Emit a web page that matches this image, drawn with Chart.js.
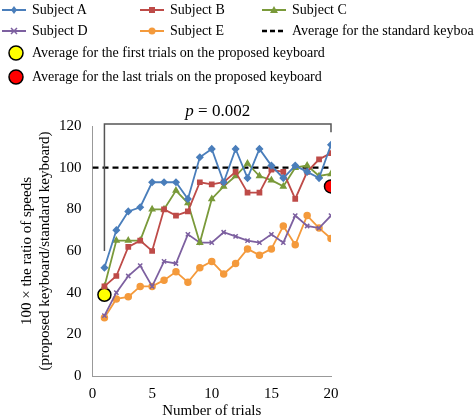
<!DOCTYPE html>
<html><head><meta charset="utf-8">
<script src="https://cdn.jsdelivr.net/npm/chart.js@4/dist/chart.umd.min.js"></script>
<style>
body{margin:0;background:#fff;font-family:"Liberation Serif","DejaVu Serif",serif;}
#wrap{position:relative;width:474px;height:417px;}
#legend{position:absolute;left:0;top:0;width:474px;font-size:14px;color:#000;}
.it{position:absolute;display:flex;align-items:center;white-space:nowrap;}
.it svg{margin-right:4px;}
</style></head><body>
<div id="wrap"><canvas id="c" width="474" height="417"></canvas><div id="legend"></div></div>
<script>
const trials=[1,2,3,4,5,6,7,8,9,10,11,12,13,14,15,16,17,18,19,20];
const subjectA=[52,70,79,81,93,93,93,85,105,109,93,109,95,109,101,95,101,98,95,111];
const subjectB=[43,48,62,65,60,80,77,79,93,92,93,98,88,88,99,98,85,98,104,107];
const subjectC=[43,65,65,65,80,80,89,83,64,85,91,96,102,96,94,91,100,101,96,97];
const subjectD=[29,40,48,53,43,55,54,68,64,64,69,67,65,64,68,64,77,72,71,77];
const subjectE=[28,37,38,43,43,46,50,45,52,55,49,54,61,58,61,72,63,77,71,66];
const standardAvg=100;
const firstAvg=39, lastAvg=91;
const names=["Subject A","Subject B","Subject C","Subject D","Subject E"];
const colors=["#4a7ebb","#be4b48","#7a9a3a","#7d60a0","#f49a3c"];
const shapes=["rectRot","rect","triangle","crossRot","circle"];
const series=[subjectA,subjectB,subjectC,subjectD,subjectE];

const datasets=series.map((s,i)=>({label:names[i],data:s.map((v,j)=>({x:trials[j],y:v})),
 borderColor:colors[i],backgroundColor:colors[i],borderWidth:1.8,pointStyle:shapes[i],pointRadius:3,pointBorderWidth:1.5}));
datasets.push({label:"Average for the standard keyboard",data:[{x:0,y:standardAvg},{x:20,y:standardAvg}],borderColor:"#000",borderDash:[6,4],borderWidth:2.2,pointRadius:0});
datasets.push({label:"first",data:[{x:1,y:firstAvg}],backgroundColor:"#ffff00",borderColor:"#000",borderWidth:1.5,pointRadius:6.5,showLine:false});
datasets.push({label:"last",data:[{x:20,y:lastAvg}],backgroundColor:"#ff0000",borderColor:"#000",borderWidth:1.5,pointRadius:6.5,showLine:false});

const bracket={id:"bracket",afterDatasetsDraw(ch){
 const {ctx,scales:{x,y}}=ch;ctx.save();ctx.strokeStyle="#555";ctx.lineWidth=1.5;
 ctx.beginPath();ctx.moveTo(x.getPixelForValue(1),y.getPixelForValue(60));
 ctx.lineTo(x.getPixelForValue(1),y.getPixelForValue(121));
 ctx.lineTo(x.getPixelForValue(20),y.getPixelForValue(121));
 ctx.lineTo(x.getPixelForValue(20),y.getPixelForValue(117));ctx.stroke();
 ctx.fillStyle="#000";
 const cx=(x.getPixelForValue(1)+x.getPixelForValue(20))/2, cy=y.getPixelForValue(121)-8;
 ctx.font="italic 17px 'Liberation Serif'";const w1=ctx.measureText("p").width;
 ctx.font="17px 'Liberation Serif'";const w2=ctx.measureText(" = 0.002").width;
 const sx=cx-(w1+w2)/2;ctx.textAlign="left";
 ctx.font="italic 17px 'Liberation Serif'";ctx.fillText("p",sx,cy);
 ctx.font="17px 'Liberation Serif'";ctx.fillText(" = 0.002",sx+w1,cy);
 ctx.restore();}};

new Chart(document.getElementById("c"),{type:"line",data:{datasets},plugins:[bracket],
 options:{responsive:false,animation:false,
 layout:{padding:{top:126,right:143,left:16,bottom:0}},
 plugins:{legend:{display:false},tooltip:{enabled:false}},
 scales:{
  x:{type:"linear",min:0,max:20,ticks:{stepSize:5,padding:1,color:"#000",font:{family:"Liberation Serif",size:15}},
     grid:{display:false},border:{color:"#999"},
     title:{display:true,text:"Number of trials",color:"#000",font:{family:"Liberation Serif",size:15},padding:{top:-2,bottom:-3}}},
  y:{min:0,max:120,ticks:{stepSize:20,color:"#000",font:{family:"Liberation Serif",size:15}},
     grid:{display:false},border:{color:"#999"},
     title:{display:true,text:["100 × the ratio of speeds","(proposed keyboard/standard keyboard)"],color:"#000",font:{family:"Liberation Serif",size:15},padding:2}}
 }}});

function marker(i){
 const c=colors[i];let s="";
 if(i===0)s=`<polygon points="12,1 15,5 12,9 9,5" fill="${c}"/>`;
 if(i===1)s=`<rect x="9" y="2" width="6" height="6" fill="${c}"/>`;
 if(i===2)s=`<polygon points="12,1 16,8 8,8" fill="${c}"/>`;
 if(i===3)s=`<path d="M9,2 L15,8 M15,2 L9,8" stroke="${c}" stroke-width="1.5"/>`;
 if(i===4)s=`<circle cx="12" cy="5" r="3.5" fill="${c}"/>`;
 return `<svg width="26" height="10"><line x1="0" y1="5" x2="24" y2="5" stroke="${c}" stroke-width="2"/>${s}</svg>`;
}
const pos=[[2,2],[140,2],[262,2],[2,23],[140,23]];
let h="";
names.forEach((n,i)=>{h+=`<div class="it" style="left:${pos[i][0]}px;top:${pos[i][1]}px">${marker(i)}${n}</div>`;});
h+=`<div class="it" style="left:262px;top:23px"><svg width="26" height="10"><line x1="0" y1="5" x2="24" y2="5" stroke="#000" stroke-width="2.5" stroke-dasharray="5,3"/></svg>Average for the standard keyboard</div>`;
h+=`<div class="it" style="left:6px;top:43px"><svg width="22" height="20"><circle cx="10" cy="10" r="7" fill="#ffff00" stroke="#000" stroke-width="1.5"/></svg>Average for the first trials on the proposed keyboard</div>`;
h+=`<div class="it" style="left:6px;top:67px"><svg width="22" height="20"><circle cx="10" cy="10" r="7" fill="#ff0000" stroke="#000" stroke-width="1.5"/></svg>Average for the last trials on the proposed keyboard</div>`;
document.getElementById("legend").innerHTML=h;
</script></body></html>
